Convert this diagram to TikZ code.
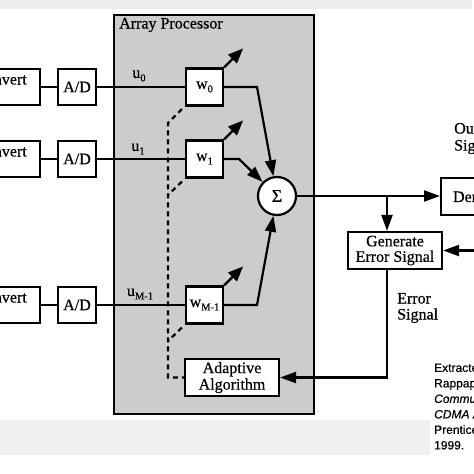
\documentclass[tikz,border=0pt]{standalone}
\usepackage{fontspec}
\setmainfont{Liberation Serif}[FakeBold=0.5]
\newfontfamily\citefont{Liberation Sans}[FakeBold=0.5]
\usetikzlibrary{arrows.meta,calc}
\newcommand\lowsub[1]{\raisebox{-3.5pt}{\fontsize{10.5}{10.5}\selectfont #1}}
\begin{document}
\begin{tikzpicture}[x=1pt,y=-1pt,
  every node/.style={font=\fontsize{16}{16}\selectfont},
  box/.style={draw,line width=2.2pt,fill=white,inner sep=0pt,minimum height=37pt,align=center},
  wire/.style={line width=2.2pt},
  arr/.style={wire,-{Triangle[length=16pt,width=11pt]}},
  warr/.style={wire,-{Triangle[length=15pt,width=12pt]}},
  dashwire/.style={line width=2.2pt,dash pattern=on 5pt off 4pt}]
\useasboundingbox (0,0) rectangle (474,474);
\clip (0,0) rectangle (474,474);
% faint bands
\fill[black!7] (0,0) rectangle (472,9);
\fill[black!6] (0,420) rectangle (430,455);
% array processor
\node[draw,line width=2.2pt,fill=black!20,minimum width=200pt,minimum height=399pt,anchor=north west,inner sep=0pt] (ap) at (113,14) {};
\node[anchor=base west,inner sep=0pt] (aplab) at (119,28.5) {Array Processor};
% rows
\node[box,minimum width=70pt,minimum height=36pt,text height=10pt,text depth=15pt] (cv0) at (5,87) {\hspace*{-8pt}Convert};
\node[box,minimum width=70pt,minimum height=36pt,text height=10pt,text depth=15pt] (cv1) at (5,159) {\hspace*{-8pt}Convert};
\node[box,minimum width=70pt,minimum height=36pt,text height=10pt,text depth=15pt] (cvM) at (5,305) {\hspace*{-8pt}Convert};
\node[box,minimum width=38pt,minimum height=36pt] (ad0) at (77,87) {A/D};
\node[box,minimum width=38pt,minimum height=36pt] (ad1) at (77,159) {A/D};
\node[box,minimum width=38pt,minimum height=36pt] (adM) at (77,305) {A/D};
\node[box,minimum width=37pt] (w0) at (204.5,87) {w\lowsub{0}};
\node[box,minimum width=37pt] (w1) at (204.5,159) {w\lowsub{1}};
\node[box,minimum width=37pt] (wM) at (204.5,305) {w\lowsub{M-1}};
\node (u0) at (139,76) {u\lowsub{0}};
\node (u1) at (138,149) {u\lowsub{1}};
\node (uM) at (140,294) {u\lowsub{M-1}};
\foreach \r in {0,1,M}{
  \draw[wire] (cv\r.east) -- (ad\r.west);
  \draw[wire] (ad\r.east) -- (w\r.west);
  \draw[warr] (w\r.north east) -- ++(19,-19);
}
% summer
\node[draw,circle,line width=2.2pt,fill=white,minimum size=38pt,inner sep=0pt] (sig) at (277,196) {\fontsize{18}{18}\selectfont Σ};
\coordinate (k0) at (257,87);
\coordinate (k1) at (239,159);
\coordinate (kM) at (257,305);
\draw[arr] (w0.east) -- (k0) -- (sig);
\draw[arr] (w1.east) -- (k1) -- (sig);
\draw[arr] (wM.east) -- (kM) -- (sig);
% adaptive algorithm
\node[box,minimum width=94pt,font=\fontsize{16}{16.5}\selectfont] (ada) at (232,377.5) {Adaptive\\Algorithm};
\coordinate (dv) at (168,123);
\draw[dashwire] ($(w0.south west)+(-3,2.5)$) -- (dv) -- (dv |- ada.west) -- (ada.west);
\draw[dashwire] ($(w1.south west)+(-3,3)$) -- (168,195);
\draw[dashwire] ($(wM.south west)+(-3,3)$) -- (168,341);
% right side
\node[box,anchor=west,text width=70pt,inner xsep=12pt,align=left] (dem) at (440,196.5) {Demodulator};
\node[anchor=west,align=left,inner sep=0pt,font=\fontsize{16}{17}\selectfont] (outlab) at (454,138.5) {Output\\Signal};
\node[box,minimum width=94pt,font=\fontsize{16}{15.5}\selectfont] (gen) at (395,250.5) {Generate\\Error Signal};
\coordinate (br) at (387,196);
\coordinate (ein) at (480,250.5);
\draw[arr] (sig.east) -- (sig.east -| dem.west);
\draw[arr] (br) -- (br |- gen.north);
\draw[arr] (ein) -- (gen.east);
\draw[arr] (br |- gen.south) -- (br |- ada.east) -- (ada.east);
\node[anchor=west,align=left,inner sep=0pt,font=\fontsize{16}{16}\selectfont] (errlab) at (397,308) {Error\\Signal};
% citation
\node[anchor=north west,align=left,inner sep=0pt,font=\citefont\fontsize{12}{15.5}\selectfont] (cite) at (434,363) {Extracted from Liberti \&\\Rappaport, \textit{Smart Antennas}\\\textit{Communications: IS-95}\\\textit{CDMA Applications},\\Prentice Hall,\\1999.};
\end{tikzpicture}
\end{document}
